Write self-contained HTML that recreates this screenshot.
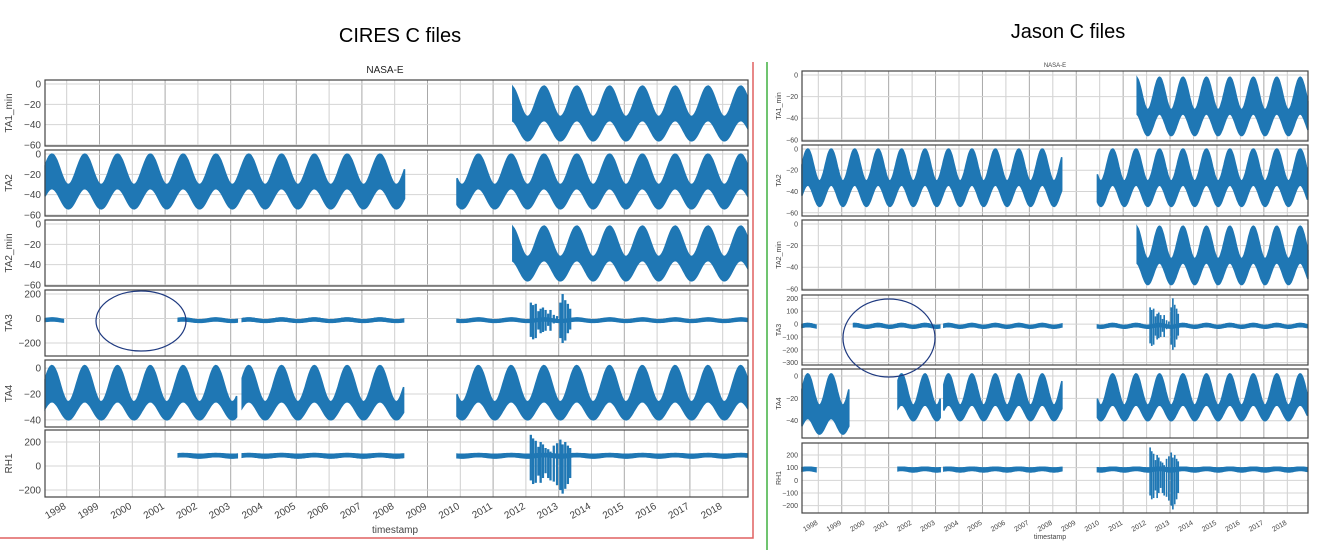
<!DOCTYPE html>
<html><head><meta charset="utf-8">
<style>
body{margin:0;background:#fff;width:1319px;height:550px;overflow:hidden;font-family:"Liberation Sans",sans-serif}
svg{position:absolute;left:0;top:0}
</style></head>
<body>
<svg id="s" width="1319" height="550" xmlns="http://www.w3.org/2000/svg">
<text x="400" y="42" font-size="20" text-anchor="middle" fill="#000">CIRES C files</text>
<text x="1068" y="38" font-size="20" text-anchor="middle" fill="#000">Jason C files</text>
<polyline points="0,538 753,538 753,62" fill="none" stroke="#e06060" stroke-width="1.5"/>
<line x1="767" y1="62" x2="767" y2="550" stroke="#40b040" stroke-width="1.5"/>
<text x="385" y="73" font-size="10" text-anchor="middle" fill="#222">NASA-E</text>
<text x="1055" y="67" font-size="6" text-anchor="middle" fill="#444">NASA-E</text>
</svg>
<script>
const years=[1998,1999,2000,2001,2002,2003,2004,2005,2006,2007,2008,2009,2010,2011,2012,2013,2014,2015,2016,2017,2018];
const panelNames=["TA1_min","TA2","TA2_min","TA3","TA4","RH1"];
// left chart series
const L_TA1min_segs=[[2011.6,2018.77]];
const L_TA2_segs=[[1997.34,2008.3],[2009.9,2018.77]];
const L_TA2min_segs=[[2011.6,2018.77]];
const L_TA3_segs=[[1997.34,1997.9],[2001.4,2003.2],[2003.35,2008.3],[2009.9,2018.77]];
const L_TA4_segs=[[1997.34,2003.2],[2003.35,2008.3],[2009.9,2018.77]];
const L_RH1_segs=[[2001.4,2003.2],[2003.35,2008.3],[2009.9,2018.77]];
// right chart series
const R_TA1min_segs=[[2011.6,2018.88]];
const R_TA2_segs=[[1997.3,2008.4],[2009.9,2018.88]];
const R_TA2min_segs=[[2011.6,2018.88]];
const R_TA3_segs=[[1997.3,1997.9],[1999.5,2003.2],[2003.35,2008.4],[2009.9,2018.88]];
const R_TA4_segs=[[1997.3,1999.3,-52],[2001.4,2003.2],[2003.35,2008.4],[2009.9,2018.88]];
const R_RH1_segs=[[1997.3,1997.9],[2001.4,2003.2],[2003.35,2008.4],[2009.9,2018.88]];
// band params: [summerTop, topSwing, winterBottom, bottomSwing, floor]
const TA1min_band=[-2,30,-56,20,-999];
const TA2_band=[0,30,-54,20,-999];
const TA3_band=[5,15,-32,12,-999];
const TA4_band=[2,28,-40,14,-40];
const RH1_band=[104,6,66,12,-999];
// spikes 2012-2013: [year, high, low]
const TA3_spikes=[[2012.15,130,-150],[2012.22,110,-170],[2012.3,120,-160],[2012.38,60,-90],[2012.45,80,-120],[2012.52,90,-110],[2012.6,70,-100],[2012.68,40,-60],[2012.75,70,-100],[2012.85,30,-40],[2012.95,20,-30],[2013.05,130,-160],[2013.12,200,-200],[2013.2,150,-180],[2013.28,120,-120],[2013.35,80,-90]];
const RH1_spikes=[[2012.15,260,-120],[2012.22,230,-150],[2012.3,210,-140],[2012.38,160,-80],[2012.45,200,-140],[2012.52,180,-100],[2012.6,150,-60],[2012.68,140,-100],[2012.75,120,-120],[2012.85,170,-130],[2012.95,190,-160],[2013.05,220,-200],[2013.12,180,-230],[2013.2,200,-190],[2013.28,170,-150],[2013.35,150,-100]];

const S=document.getElementById('s');
const NS="http://www.w3.org/2000/svg";
function mk(t,a,parent){const e=document.createElementNS(NS,t);for(const k in a)e.setAttribute(k,a[k]);(parent||S).appendChild(e);return e;}

function chart(cfg){
  const xs=y=>cfg.x0+(y-cfg.y0)*cfg.step;
  cfg.panels.forEach((p,i)=>{
    const ys=v=>p.top+(p.d[1]-v)/(p.d[1]-p.d[0])*(p.bot-p.top);
    const g=mk('g',{});
    
    
    years.forEach(y=>{const l=mk('line',{x1:xs(y),x2:xs(y),y1:p.top,y2:p.bot,stroke:(y%2?'#a8a8a8':'#cfcfcf'),'stroke-width':1},g);
      });
    p.ticks.forEach(t=>{const l=mk('line',{x1:cfg.left,x2:cfg.right,y1:ys(t),y2:ys(t),stroke:'#d4d4d4','stroke-width':1},g);
      
      const tx=mk('text',{x:cfg.left-4,y:ys(t)+cfg.fs*0.35,'font-size':cfg.fs,'text-anchor':'end',fill:'#444'},g);
      tx.textContent=(t<0?'\u2212'+(-t):t);
      });
    const b=p.band;
    p.segs.forEach(sg=>{
      const up=[],lo=[];
      for(let t=sg[0];t<=sg[1]+1e-9;t+=0.04){
        const s=(Math.cos(2*Math.PI*(t-0.55))+1)/2;
        let u=b[0]-b[1]*(1-s);
        let wb=(sg[2]!==undefined)?sg[2]:b[2];
        let l=Math.max(sg[2]!==undefined?-999:b[4], wb+b[3]*s);
        up.push(xs(t).toFixed(1)+','+ys(u).toFixed(1));lo.unshift(xs(t).toFixed(1)+','+ys(l).toFixed(1));
      }
      const pg=mk('polygon',{points:up.concat(lo).join(' '),fill:'#1f77b4',stroke:'#1f77b4','stroke-width':1.5},g);
      
    });
    if(p.spikes){p.spikes.forEach(sp=>{
      const l=mk('line',{x1:xs(sp[0]),x2:xs(sp[0]),y1:ys(Math.min(sp[1],p.d[1])),y2:ys(Math.max(sp[2],p.d[0])),stroke:'#1f77b4','stroke-width':cfg.step*0.07},g);
      });}
    const r=mk('rect',{x:cfg.left,y:p.top,width:cfg.right-cfg.left,height:p.bot-p.top,fill:'none',stroke:'#444','stroke-width':1.2},g);
    
    const yl=mk('text',{x:0,y:0,'font-size':cfg.fs,'text-anchor':'middle',fill:'#444',transform:`translate(${cfg.labX},${(p.top+p.bot)/2}) rotate(-90)`},g);
    yl.textContent=panelNames[i];
    
  });
  years.forEach(y=>{
    const t=mk('text',{x:0,y:0,'font-size':cfg.fs,'text-anchor':'end',fill:'#444',transform:`translate(${xs(y)},${cfg.xlabY}) rotate(-30)`});
    t.textContent=y;
    
  });
  const xt=mk('text',{x:cfg.xtX,y:cfg.xtY,'font-size':cfg.fs,'text-anchor':'middle',fill:'#444'});
  xt.textContent='timestamp';
  
  const e=mk('ellipse',{cx:cfg.ell[0],cy:cfg.ell[1],rx:cfg.ell[2],ry:cfg.ell[3],fill:'none',stroke:'#1f3a80','stroke-width':1.2});
  
}

chart({side:'left',x0:66.7,y0:1998,step:32.8,left:45,right:748,fs:10,labX:12,xlabY:508,xtX:395,xtY:533,ell:[141,321,45,30],
 panels:[
  {top:80,bot:146,d:[-61,4],ticks:[0,-20,-40,-60],segs:L_TA1min_segs,band:TA1min_band},
  {top:150,bot:216,d:[-61,4],ticks:[0,-20,-40,-60],segs:L_TA2_segs,band:TA2_band},
  {top:220,bot:286,d:[-61,4],ticks:[0,-20,-40,-60],segs:L_TA2min_segs,band:TA1min_band},
  {top:290,bot:356,d:[-306,233],ticks:[200,0,-200],segs:L_TA3_segs,band:TA3_band,spikes:TA3_spikes},
  {top:360,bot:427,d:[-45.5,6.3],ticks:[0,-20,-40],segs:L_TA4_segs,band:TA4_band},
  {top:430,bot:497,d:[-258,300],ticks:[200,0,-200],segs:L_RH1_segs,band:RH1_band,spikes:RH1_spikes}
 ]});
chart({side:'right',x0:818.3,y0:1998,step:23.45,left:802,right:1308,fs:7,labX:781,xlabY:524,xtX:1050,xtY:539,ell:[889,338,46,39],
 panels:[
  {top:71,bot:141,d:[-61,3.7],ticks:[0,-20,-40,-60],segs:R_TA1min_segs,band:TA1min_band},
  {top:145,bot:216,d:[-63,3.7],ticks:[0,-20,-40,-60],segs:R_TA2_segs,band:TA2_band},
  {top:220,bot:290,d:[-61,3.7],ticks:[0,-20,-40,-60],segs:R_TA2min_segs,band:TA1min_band},
  {top:295,bot:365,d:[-318,226],ticks:[200,100,0,-100,-200,-300],segs:R_TA3_segs,band:TA3_band,spikes:TA3_spikes},
  {top:369,bot:438,d:[-55.5,6.3],ticks:[0,-20,-40],segs:R_TA4_segs,band:TA4_band},
  {top:443,bot:513,d:[-258,295],ticks:[200,100,0,-100,-200],segs:R_RH1_segs,band:RH1_band,spikes:RH1_spikes}
 ]});
</script>
</body></html>
